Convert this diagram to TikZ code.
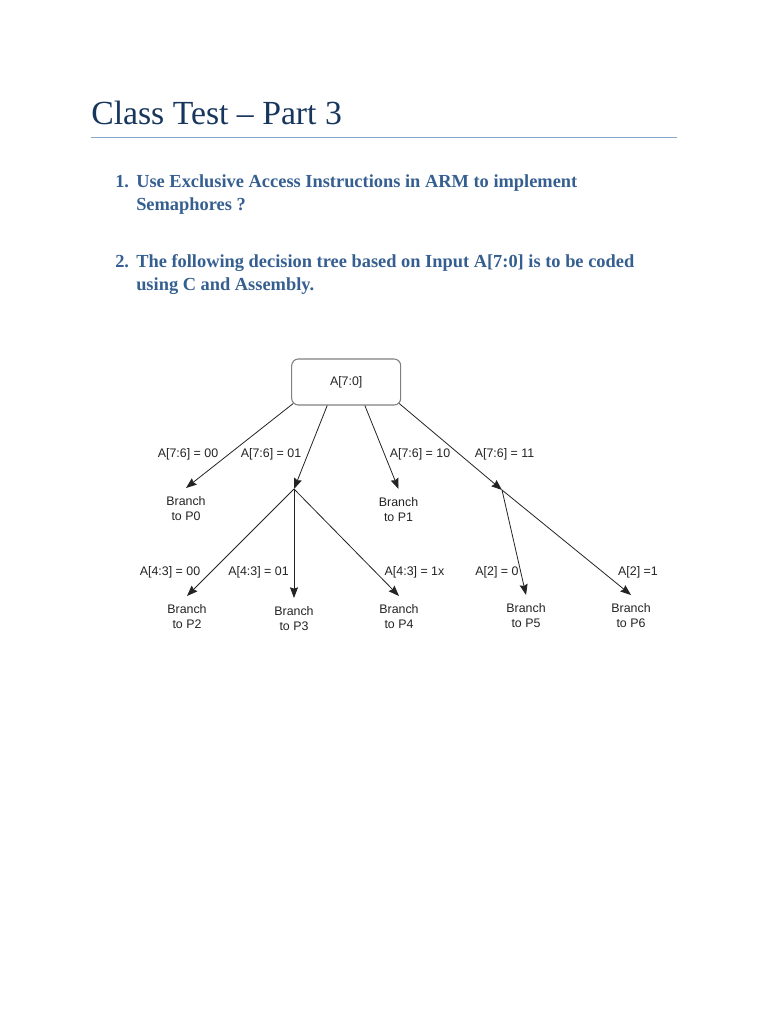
\documentclass[tikz,border=0pt]{standalone}
\usepackage{fontspec}
\setmainfont{Liberation Serif}
\newfontfamily\diagfont{Liberation Sans}
\usetikzlibrary{arrows.meta}
\definecolor{titleblue}{RGB}{23,54,93}
\definecolor{headblue}{RGB}{54,95,145}
\definecolor{ruleblue}{RGB}{135,165,200}
\definecolor{ink}{RGB}{35,35,35}

\begin{document}
\begin{tikzpicture}[x=0.75pt,y=-0.75pt,>={Stealth[length=8pt,width=6pt,inset=1pt]},
    head/.style={anchor=base west,inner sep=0pt,text=headblue,font=\bfseries\fontsize{13.8}{16.9}\selectfont},
    branch/.style={align=center,anchor=north,inner sep=1.5pt,outer sep=5pt,text=ink,font=\diagfont\fontsize{9.3}{11.25}\selectfont},
    cond/.style={inner sep=0pt,text=ink,font=\diagfont\fontsize{9.3}{11}\selectfont},
    edge/.style={->,draw=ink,line width=0.6pt}]
  \useasboundingbox (0,0) rectangle (768,1024);
  % heading and questions
  \node[anchor=base west,inner sep=0pt,text=titleblue,font=\fontsize{25.3}{30}\selectfont] (title) at (91,124.3) {Class Test – Part 3};
  \draw[ruleblue,line width=1pt] (91,137.7) -- (677,137.7);
  \node[head] (num1) at (115,187.7) {1.};
  \node[head] (q1a) at (136,187.7) {Use Exclusive Access Instructions in ARM to implement};
  \node[head] (q1b) at (136,210.2) {Semaphores ?};
  \node[head] (num2) at (115,267.7) {2.};
  \node[head] (q2a) at (136,267.7) {The following decision tree based on Input A[7:0] is to be coded};
  \node[head] (q2b) at (136,290.2) {using C and Assembly.};
  % decision tree
  \node[draw=gray,line width=0.8pt,rounded corners=5pt,minimum width=81.75pt,minimum height=34.5pt,text=ink,font=\diagfont\fontsize{9.3}{11}\selectfont] (root) at (346.2,382) {A[7:0]};
  \coordinate (split01) at (294,489);
  \coordinate (split11) at (502,490);
  \node[branch] (branchP0) at (186,488) {Branch\\to P0};
  \node[branch] (branchP1) at (398.5,489) {Branch\\to P1};
  \node[branch] (branchP2) at (187,596) {Branch\\to P2};
  \node[branch] (branchP3) at (294,598) {Branch\\to P3};
  \node[branch] (branchP4) at (399,596) {Branch\\to P4};
  \node[branch] (branchP5) at (526,595) {Branch\\to P5};
  \node[branch] (branchP6) at (631,595) {Branch\\to P6};
  \draw[edge] ([xshift=1.5pt,yshift=1.5pt]root.south west) -- (branchP0.north);
  \draw[edge] ([xshift=-14.25pt]root.south) -- (split01);
  \draw[edge] ([xshift=14pt]root.south) -- (branchP1.north);
  \draw[edge] ([xshift=-1.5pt,yshift=1.5pt]root.south east) -- (split11);
  \draw[edge] (split01) -- (branchP2.north);
  \draw[edge] (split01) -- (branchP3.north);
  \draw[edge] (split01) -- (branchP4.north);
  \draw[edge] (split11) -- (branchP5.north);
  \draw[edge] (split11) -- (branchP6.north);
  \node[cond] (c00) at (188,454.5) {A[7:6] = 00};
  \node[cond] (c01) at (271,454.5) {A[7:6] = 01};
  \node[cond] (c10) at (420,454.5) {A[7:6] = 10};
  \node[cond] (c11) at (504.5,454.5) {A[7:6] = 11};
  \node[cond] (d00) at (170,572) {A[4:3] = 00};
  \node[cond] (d01) at (258.5,572) {A[4:3] = 01};
  \node[cond] (d1x) at (414.5,572) {A[4:3] = 1x};
  \node[cond] (e0) at (497,572) {A[2] = 0};
  \node[cond] (e1) at (638,572) {A[2] =1};
\end{tikzpicture}
\end{document}
